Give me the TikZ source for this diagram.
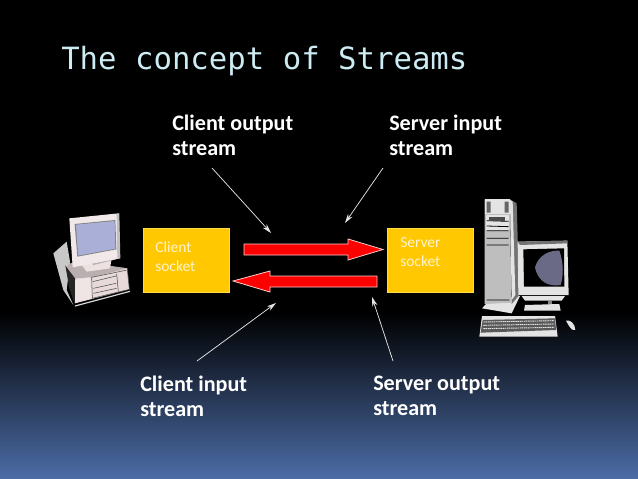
\documentclass[tikz,border=0pt]{standalone}
\usepackage{fontspec}
\setmainfont{Carlito}
\newfontfamily\titlefont{DejaVu Sans Mono}
\usetikzlibrary{arrows.meta}
\definecolor{titleblue}{HTML}{CDEBF2}
\definecolor{boxyellow}{HTML}{FFC800}
\definecolor{boxtext}{HTML}{FFF4D0}
\definecolor{bottomblue}{HTML}{4C6CA6}
\definecolor{pcpink}{HTML}{E8DADA}
\definecolor{pcshade}{HTML}{B9AEB0}
\definecolor{pcscreen}{HTML}{A9AFD6}
\definecolor{srvgrey}{HTML}{BEBEBE}
\definecolor{srvlight}{HTML}{E4E4E4}
\definecolor{srvblob}{HTML}{6B6A86}
\tikzset{
  heading/.style={anchor=north west,inner sep=0pt,text=white,align=left,font=\fontsize{16.6}{19}\selectfont\bfseries},
  sockbox/.style={draw=boxyellow!70!white,line width=0.5pt,fill=boxyellow,minimum width=64.5pt,minimum height=48pt,inner sep=0pt},
  socktext/.style={anchor=north west,inner sep=0pt,text=boxtext,align=left,font=\fontsize{11.6}{14.6}\selectfont},
  pointer/.style={draw=white!90!black,line width=0.55pt,-{Stealth[length=7pt,width=4pt]}},
  redarrow/.style={fill=red,draw=white!80!red,line width=0.6pt,line join=miter},
  pcedge/.style={line width=0.4pt,draw=black!70}
}
\begin{document}
\begin{tikzpicture}[x=0.75pt,y=-0.75pt]
\useasboundingbox (0,0) rectangle (638,478);
\fill[black] (0,0) rectangle (638,478);
\shade[top color=black,bottom color=bottomblue] (0,312) rectangle (638,478);

\node[anchor=north west,inner sep=0pt,text=titleblue,font=\fontsize{23}{26}\selectfont\titlefont] (title) at (61,45.5) {The concept of Streams};

\node[heading] (lco) at (172,114.5) {Client output\\stream};
\node[heading] (lsi) at (389,114.5) {Server input\\stream};
\node[heading] (lci) at (140,375.5) {Client input\\stream};
\node[heading] (lso) at (373,375.5) {Server output\\stream};

\node[sockbox] (cbox) at (186,260) {};
\node[sockbox] (sbox) at (430.5,260) {};
\node[socktext] (ctext) at (155,241) {Client\\socket};
\node[socktext] (stext) at (400,237) {Server\\socket};

% red block arrows
\draw[redarrow] (244,244) -- (348,244) -- (348,239) -- (383,249.5) -- (348,260) -- (348,255) -- (244,255) -- cycle;
\draw[redarrow] (377,276) -- (270,276) -- (270,271) -- (233,281) -- (270,292) -- (270,287) -- (377,287) -- cycle;

% thin pointers
\coordinate (a1s) at (212,168); \coordinate (a1e) at (271,233);
\coordinate (a2s) at (383,168); \coordinate (a2e) at (345,223);
\coordinate (a3s) at (197,361); \coordinate (a3e) at (276,303);
\coordinate (a4s) at (393,361); \coordinate (a4e) at (372,297);
\draw[pointer] (a1s) -- (a1e);
\draw[pointer] (a2s) -- (a2e);
\draw[pointer] (a3s) -- (a3e);
\draw[pointer] (a4s) -- (a4e);

% client computer (zoom coordinates: 3 units per pixel)
\begin{scope}[shift={(40,190)},x=0.25pt,y=-0.25pt]
  \fill[srvgrey!85!white] (40,190) -- (80,155) -- (90,215) -- (80,300) -- (100,345) -- (70,300) -- cycle;
  % desk unit
  \fill[pcpink] (78,228) -- (100,218) -- (262,235) -- (268,298) -- (105,340) -- (92,300) -- cycle;
  \fill[pcshade] (80,228) -- (105,212) -- (262,235) -- (155,262) -- (105,265) -- cycle;
  \fill[black!85] (76,226) -- (105,265) -- (105,342) -- (88,295) -- cycle;
  \draw[pcedge] (155,262) -- (262,240) -- (268,298) -- (157,325) -- cycle;
  \draw[pcedge] (158,275) -- (228,258) (160,295) -- (228,280) (160,310) -- (230,295) (230,252) -- (235,305);
  \fill[pcpink!70!white] (105,270) -- (150,262) -- (155,325) -- (105,338) -- cycle;
  \draw[black!15,line width=0.9pt] (105,348) -- (270,304);
  % monitor
  \fill[pcpink!80!white] (125,225) -- (215,205) -- (210,235) -- (140,245) -- cycle;
  \fill[pcshade] (150,215) -- (225,198) -- (228,208) -- (160,225) -- cycle;
  \fill[pcpink!60!white] (88,85) -- (236,70) -- (240,205) -- (98,232) -- cycle;
  \fill[black!25] (230,72) -- (238,70) -- (241,205) -- (232,206) -- cycle;
  \fill[black!50] (104,102) -- (226,90) -- (229,178) -- (112,200) -- cycle;
  \fill[pcscreen] (108,104) -- (224,93) -- (226,176) -- (114,197) -- cycle;
\end{scope}

% server computer (zoom coordinates: 3 units per pixel)
\begin{scope}[shift={(470,190)},x=0.25pt,y=-0.25pt]
  % tower
  \fill[srvlight] (36,355) -- (50,340) -- (130,320) -- (150,318) -- (125,370) -- cycle;
  \fill[srvgrey!60!black] (120,28) -- (140,40) -- (148,315) -- (125,342) -- cycle;
  \fill[srvlight] (120,30) -- (128,35) -- (136,315) -- (125,330) -- cycle;
  \fill[srvgrey] (44,28) -- (120,28) -- (124,338) -- (44,342) -- cycle;
  \fill[srvlight] (44,28) -- (120,28) -- (120,72) -- (44,72) -- cycle;
  \fill[black!60] (50,35) rectangle (62,68) (104,35) rectangle (116,68);
  \fill[srvlight] (48,76) rectangle (116,122);
  \draw[black,line width=0.6pt] (50,92) -- (116,94) (50,108) -- (116,110) (50,122) -- (116,122) (50,145) -- (116,145) (50,165) -- (116,165) (50,330) -- (118,330);
  \fill[black!70] (56,82) rectangle (106,92);
  % monitor
  \fill[srvlight] (143,155) -- (292,152) -- (296,315) -- (145,315) -- cycle;
  \fill[srvgrey!60!black] (143,155) -- (292,152) -- (292,160) -- (150,165) -- cycle;
  \fill[black] (160,178) -- (282,175) -- (283,290) -- (162,290) -- cycle;
  \fill[srvblob] (195,232) .. controls (205,195) and (240,180) .. (268,182) .. controls (282,220) and (280,260) .. (272,285) .. controls (240,290) and (205,280) .. (195,232) -- cycle;
  \fill[srvlight] (155,318) -- (285,318) -- (275,332) -- (165,332) -- cycle;
  \fill[srvgrey!70!black] (235,332) rectangle (245,345);
  \fill[srvlight] (165,345) -- (268,342) -- (272,362) -- (162,362) -- cycle;
  % keyboard
  \fill[srvlight] (36,378) -- (255,378) -- (263,440) -- (28,440) -- cycle;
  \fill[black!65] (38,390) -- (255,385) -- (258,420) -- (32,428) -- cycle;
  \foreach \yy in {392,402,412}
    \draw[srvlight,line width=0.7pt,dash pattern=on 1.1pt off 0.5pt] (40,\yy+4) -- (252,\yy);
  % mouse
  \fill[srvlight] (288,392) .. controls (300,388) and (315,400) .. (316,420) .. controls (305,425) and (295,405) .. (288,392) -- cycle;
\end{scope}
\end{tikzpicture}
\end{document}
